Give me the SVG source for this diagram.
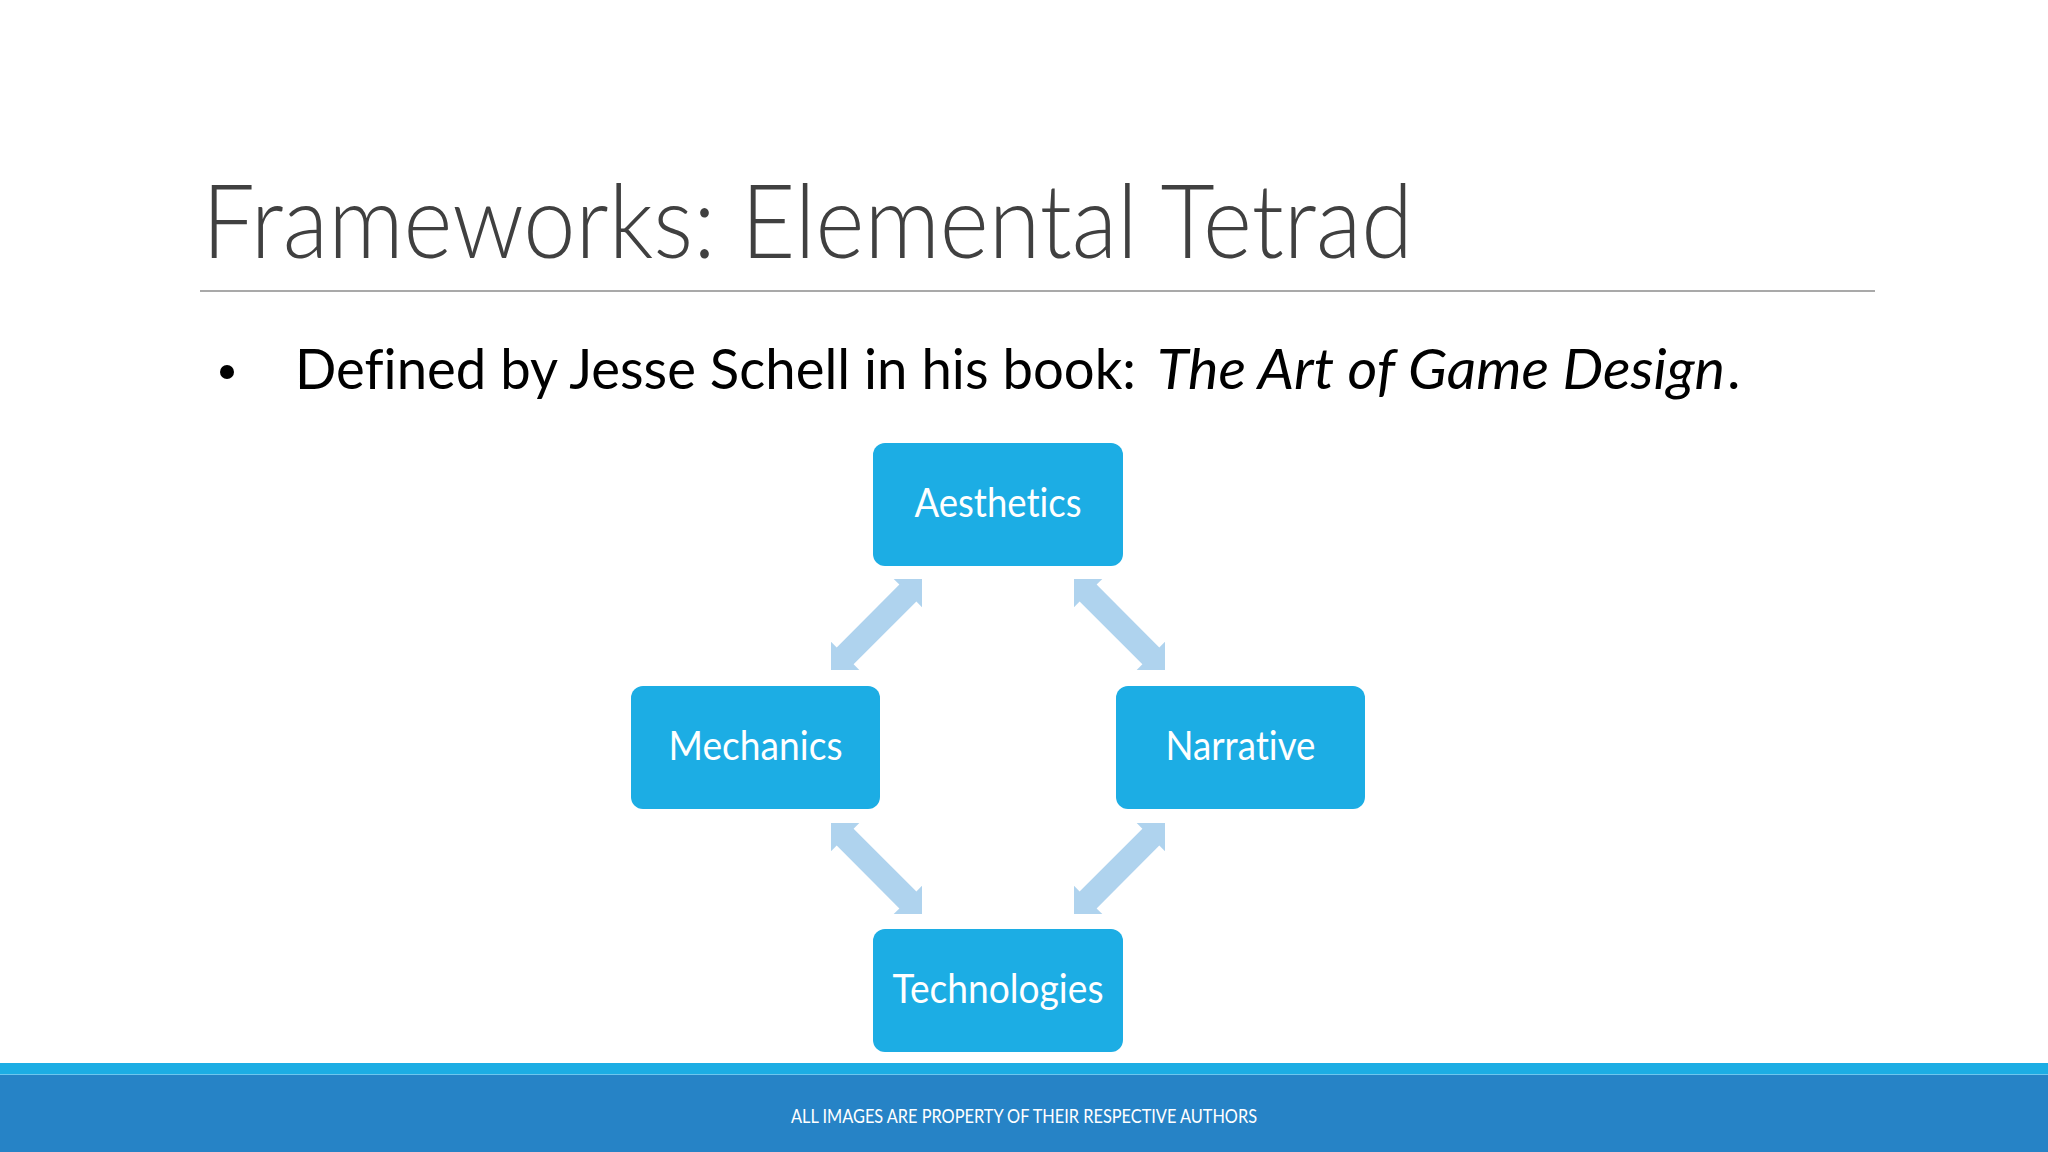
<svg xmlns="http://www.w3.org/2000/svg" width="2048" height="1152" viewBox="0 0 2048 1152">
<style>
text{font-variant-ligatures:none}
.title{font-family:Lato,"Open Sans","Liberation Sans",sans-serif;font-weight:300;font-size:102px;fill:#404040}
.body{font-family:Lato,"Open Sans","Liberation Sans",sans-serif;font-size:57px;fill:#000}
.it{font-style:italic}
.box{fill:#1CADE4}
.lbl{font-family:Lato,"Open Sans","Liberation Sans",sans-serif;font-size:40px;fill:#fff;text-anchor:middle}
.arr{fill:#AFD3EE}
.foot{font-family:Lato,"Open Sans","Liberation Sans",sans-serif;font-size:19px;fill:#fff;text-anchor:middle}
</style>
<rect width="2048" height="1152" fill="#fff"/>
<text class="title" x="202" y="258" textLength="1211" lengthAdjust="spacingAndGlyphs">Frameworks: Elemental Tetrad</text>
<line x1="200" y1="291" x2="1875" y2="291" stroke="#a9a9a9" stroke-width="2"/>
<circle cx="227" cy="372" r="7" fill="#000"/>
<text class="body" x="295" y="389" textLength="841" lengthAdjust="spacingAndGlyphs">Defined by Jesse Schell in his book:</text>
<text class="body it" x="1157" y="389" textLength="568" lengthAdjust="spacingAndGlyphs">The Art of Game Design</text>
<text class="body" x="1727" y="389">.</text>
<g id="connectors">
<path class="arr" transform="translate(831,670)" d="M0,0 L28.3,0 L22.6,-5.7 L85.4,-68.4 L91,-62.7 L91,-91 L62.7,-91 L68.4,-85.4 L5.7,-22.6 L0,-28.3 Z"/>
<path class="arr" transform="translate(1165,670) scale(-1,1)" d="M0,0 L28.3,0 L22.6,-5.7 L85.4,-68.4 L91,-62.7 L91,-91 L62.7,-91 L68.4,-85.4 L5.7,-22.6 L0,-28.3 Z"/>
<path class="arr" transform="translate(831,823) scale(1,-1)" d="M0,0 L28.3,0 L22.6,-5.7 L85.4,-68.4 L91,-62.7 L91,-91 L62.7,-91 L68.4,-85.4 L5.7,-22.6 L0,-28.3 Z"/>
<path class="arr" transform="translate(1165,823) scale(-1,-1)" d="M0,0 L28.3,0 L22.6,-5.7 L85.4,-68.4 L91,-62.7 L91,-91 L62.7,-91 L68.4,-85.4 L5.7,-22.6 L0,-28.3 Z"/>
</g>
<g id="aesthetics">
<rect class="box" x="873" y="443" width="250" height="123" rx="12"/>
<text class="lbl" x="998" y="517" textLength="167" lengthAdjust="spacingAndGlyphs">Aesthetics</text>
</g>
<g id="mechanics">
<rect class="box" x="631" y="686" width="249" height="123" rx="12"/>
<text class="lbl" x="755.5" y="760" textLength="174" lengthAdjust="spacingAndGlyphs">Mechanics</text>
</g>
<g id="narrative">
<rect class="box" x="1116" y="686" width="249" height="123" rx="12"/>
<text class="lbl" x="1240.5" y="760" textLength="150" lengthAdjust="spacingAndGlyphs">Narrative</text>
</g>
<g id="technologies">
<rect class="box" x="873" y="929" width="250" height="123" rx="12"/>
<text class="lbl" x="998" y="1003" textLength="211" lengthAdjust="spacingAndGlyphs">Technologies</text>
</g>
<rect x="0" y="1063" width="2048" height="11" fill="#1CADE4"/>
<rect x="0" y="1074" width="2048" height="1" fill="#6cc6ee"/>
<rect x="0" y="1075" width="2048" height="77" fill="#2683C6"/>
<text class="foot" x="1024" y="1123" textLength="466" lengthAdjust="spacingAndGlyphs">ALL IMAGES ARE PROPERTY OF THEIR RESPECTIVE AUTHORS</text>
</svg>
